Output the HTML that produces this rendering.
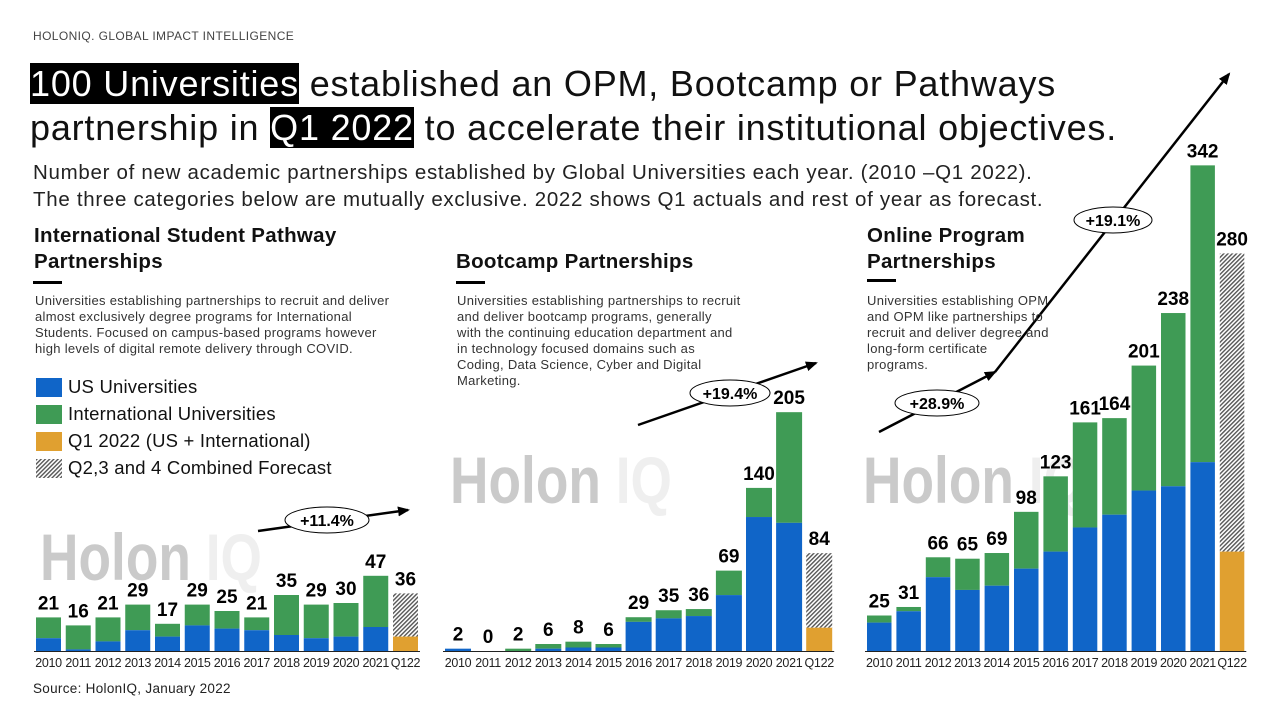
<!DOCTYPE html>
<html><head><meta charset="utf-8">
<style>
*{margin:0;padding:0;box-sizing:border-box}
body{width:1280px;height:720px;background:#fff;font-family:"Liberation Sans",sans-serif;color:#111;position:relative;overflow:hidden}
.abs{position:absolute;white-space:nowrap}
.hl{background:#000;color:#fff}
.desc{font-size:13px;line-height:16px;color:#333;white-space:nowrap;letter-spacing:0.3px}
.h2{font-size:20.5px;font-weight:bold;line-height:26px;letter-spacing:0.3px}
.ul{position:absolute;height:3px;width:29px;background:#000}
.leg{position:absolute;left:36px;font-size:18.5px;display:flex;align-items:center;letter-spacing:0.2px}
.sw{width:26px;height:19px;margin-right:6px}
</style></head><body>
<svg width="1280" height="720" style="position:absolute;left:0;top:0" id="chart">
<defs><pattern id="hatch" width="3" height="3" patternUnits="userSpaceOnUse" patternTransform="rotate(45)"><rect width="3" height="3" fill="#fff"/><rect width="1.4" height="3" fill="#555"/></pattern>
<marker id="ah" markerUnits="userSpaceOnUse" markerWidth="12" markerHeight="10" refX="10" refY="5" orient="auto"><path d="M0,0 L12,5 L0,10 z" fill="#000"/></marker></defs>
<g id="wm"></g><g id="bars"></g><g id="anno"></g>
</svg>
<div class="abs" style="left:33px;top:29px;font-size:12px;color:#444;letter-spacing:0.4px">HOLONIQ. GLOBAL IMPACT INTELLIGENCE</div>
<div class="abs" style="left:30px;top:62px;font-size:36px;line-height:44px;letter-spacing:0.8px"><span class="hl">100 Universities</span> established an OPM, Bootcamp or Pathways<br>partnership in <span class="hl">Q1 2022</span> to accelerate their institutional objectives.</div>
<div class="abs" style="left:33px;top:159px;font-size:20.5px;line-height:27px;color:#222;letter-spacing:0.7px">Number of new academic partnerships established by Global Universities each year. (2010 –Q1 2022).<br>The three categories below are mutually exclusive. 2022 shows Q1 actuals and rest of year as forecast.</div>
<div class="abs h2" style="left:34px;top:223px">International Student Pathway<br>Partnerships</div>
<div class="ul" style="left:33px;top:281px"></div>
<div class="abs desc" style="left:35px;top:293px">Universities establishing partnerships to recruit and deliver<br>almost exclusively degree programs for International<br>Students. Focused on campus-based programs however<br>high levels of digital remote delivery through COVID.</div>
<div class="abs h2" style="left:456px;top:249px">Bootcamp Partnerships</div>
<div class="ul" style="left:456px;top:281px"></div>
<div class="abs desc" style="left:457px;top:293px">Universities establishing partnerships to recruit<br>and deliver bootcamp programs, generally<br>with the continuing education department and<br>in technology focused domains such as<br>Coding, Data Science, Cyber and Digital<br>Marketing.</div>
<div class="abs h2" style="left:867px;top:223px">Online Program<br>Partnerships</div>
<div class="ul" style="left:867px;top:279px"></div>
<div class="abs desc" style="left:867px;top:293px">Universities establishing OPM<br>and OPM like partnerships to<br>recruit and deliver degree and<br>long-form certificate<br>programs.</div>
<div class="leg" style="top:376px"><div class="sw" style="background:#1065c8"></div>US Universities</div>
<div class="leg" style="top:403px"><div class="sw" style="background:#3f9b55"></div>International Universities</div>
<div class="leg" style="top:430px"><div class="sw" style="background:#e0a030"></div>Q1 2022 (US + International)</div>
<div class="leg" style="top:457px"><svg class="sw" width="26" height="19"><rect width="26" height="19" fill="url(#hatch)"/></svg>Q2,3 and 4 Combined Forecast</div>
<div class="abs" style="left:33px;top:681px;font-size:13.5px;color:#222;letter-spacing:0.3px">Source: HolonIQ, January 2022</div>
<script>
const categories=["2010","2011","2012","2013","2014","2015","2016","2017","2018","2019","2020","2021","Q122"];
const pathwayTotals=[21,16,21,29,17,29,25,21,35,29,30,47,36];
const pathwayUS=[8,1,6,13,9,16,14,13,10,8,9,15,9];
const bootcampTotals=[2,0,2,6,8,6,29,35,36,69,140,205,84];
const bootcampUS=[2,0,0,2,3,3,25,28,30,48,115,110,20];
const opmTotals=[25,31,66,65,69,98,123,161,164,201,238,342,280];
const opmUS=[20,28,52,43,46,58,70,87,96,113,116,133,70];
const NS="http://www.w3.org/2000/svg";
function mk(tag,attrs,parent){const e=document.createElementNS(NS,tag);for(const k in attrs)e.setAttribute(k,attrs[k]);parent.appendChild(e);return e;}
const bars=document.getElementById('bars');
function drawChart(key,totals,us,x0,pitch,bw,base,scale){
  const g=mk('g',{},bars);
  
  
  const y=v=>base-v*scale;
  const xs=i=>x0+i*pitch;
  const n=categories.length;
  const ax=mk('line',{x1:xs(0)-2,x2:xs(n-1)+bw+2,y1:base+0.5,y2:base+0.5,stroke:'#222','stroke-width':1},g);
  
  
  for(let i=0;i<n;i++){
    const x=xs(i),last=i===n-1;
    if(last){
      const f=mk('rect',{x:x,y:y(totals[i]),width:bw,height:(totals[i]-us[i])*scale,fill:'url(#hatch)'},g);
      
      
      const o=mk('rect',{x:x,y:y(us[i]),width:bw,height:us[i]*scale,fill:'#e0a030'},g);
      
      
    } else {
      const gr=mk('rect',{x:x,y:y(totals[i]),width:bw,height:(totals[i]-us[i])*scale,fill:'#3f9b55'},g);
      
      
      const b=mk('rect',{x:x,y:y(us[i]),width:bw,height:us[i]*scale,fill:'#1065c8'},g);
      
      
    }
    const t=mk('text',{x:x+bw/2,y:y(totals[i])-8,'text-anchor':'middle','font-size':19,'font-weight':'bold','font-family':'Liberation Sans'},g);
    t.textContent=totals[i];
    
    
    const c=mk('text',{x:x+bw/2,y:base+16,'text-anchor':'middle','font-size':12.5,'font-family':'Liberation Sans',fill:'#222','letter-spacing':'-0.3'},g);
    c.textContent=categories[i];
    
    
  }
}
const wm=document.getElementById('wm');
[[40,580],[450,503],[863,503]].forEach(p=>{
  const t=mk('text',{x:p[0],y:p[1],'font-size':66,'font-weight':'bold','font-family':'Liberation Sans',textLength:222,lengthAdjust:'spacingAndGlyphs'},wm);
  t.innerHTML='<tspan fill="#cacaca">Holon</tspan><tspan fill="#efefef"> IQ</tspan>';
  
  
});
drawChart('pathway',pathwayTotals,pathwayUS,36,29.75,25,651,1.6);
drawChart('bootcamp',bootcampTotals,bootcampUS,445,30.1,26,651,1.165);
drawChart('opm',opmTotals,opmUS,867,29.4,24.5,651,1.42);
const an=document.getElementById('anno');
function arrow(pts,key){const p=mk('polyline',{points:pts,fill:'none',stroke:'#000','stroke-width':2.5,'marker-end':'url(#ah)'},an);

}
function badge(cx,cy,w,txt,key){const g=mk('g',{},an);


mk('ellipse',{cx:cx,cy:cy,rx:w/2,ry:13,fill:'#fff',stroke:'#000','stroke-width':1},g);
const t=mk('text',{x:cx,y:cy+6,'text-anchor':'middle','font-size':16,'font-weight':'bold','font-family':'Liberation Sans'},g);t.textContent=txt;}
arrow('258,531 408,510','pathway-trend-arrow');
arrow('638,425 816,363','bootcamp-trend-arrow');
arrow('879,432 995,372','opm-trend-arrow-early');
arrow('995,372 1229,74','opm-trend-arrow-late');
badge(327,520,84,'+11.4%','pathway-cagr-badge');
badge(730,393,80,'+19.4%','bootcamp-cagr-badge');
badge(937,403,84,'+28.9%','opm-cagr-early-badge');
badge(1113,220,78,'+19.1%','opm-cagr-late-badge');
</script>
</body></html>
